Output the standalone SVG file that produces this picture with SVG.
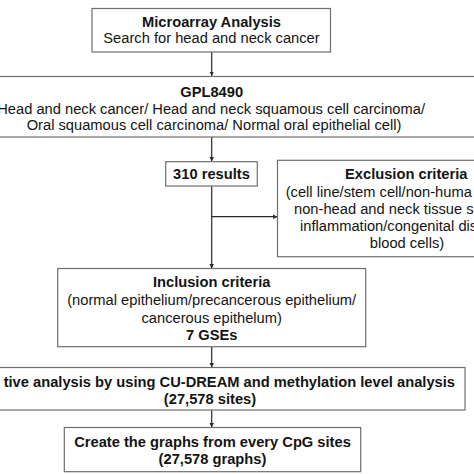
<svg xmlns="http://www.w3.org/2000/svg" width="474" height="474" viewBox="0 0 474 474">
<style>
.box{fill:#fff;stroke:#6e6e6e;stroke-width:1.2}
text{font-family:"Liberation Sans",Arial,sans-serif;font-size:14.7px;fill:#141414}
.b{font-weight:bold}
.c{text-anchor:middle}
.e{text-anchor:end}
.conn{stroke:#2a2a2a;stroke-width:1.2;fill:none}
</style>
<defs>
<marker id="ah" viewBox="0 0 10 10" refX="10" refY="5" markerWidth="4.5" markerHeight="4.5" orient="auto" markerUnits="userSpaceOnUse">
<path d="M0,0 L10,5 L0,10 z" fill="#2a2a2a"/>
</marker>
</defs>
<rect width="474" height="474" fill="#fff"/>
<g id="connectors">
<line class="conn" x1="211.7" y1="52" x2="211.7" y2="76" marker-end="url(#ah)"/>
<line class="conn" x1="211.7" y1="137" x2="211.7" y2="161.5" marker-end="url(#ah)"/>
<line class="conn" x1="211.7" y1="186" x2="211.7" y2="268.5" marker-end="url(#ah)"/>
<line class="conn" x1="211.7" y1="216.7" x2="277.5" y2="216.7" marker-end="url(#ah)"/>
<line class="conn" x1="211.7" y1="347" x2="211.7" y2="367.5" marker-end="url(#ah)"/>
<line class="conn" x1="211.7" y1="410" x2="211.7" y2="427.5" marker-end="url(#ah)"/>
</g>
<g id="microarray">
<rect class="box" x="92" y="8.5" width="238.5" height="43.5"/>
<text class="b c" x="211.5" y="27">Microarray Analysis</text>
<text class="c" x="211.5" y="43">Search for head and neck cancer</text>
</g>
<g id="gpl8490">
<rect class="box" x="-10" y="76.5" width="494" height="60.5"/>
<text class="b c" x="211.7" y="97">GPL8490</text>
<text class="e" x="425" y="113.5">Head and neck cancer/ Head and neck squamous cell carcinoma/</text>
<text class="c" x="214" y="129.5">Oral squamous cell carcinoma/ Normal oral epithelial cell)</text>
</g>
<g id="results">
<rect class="box" x="165.7" y="161.7" width="91.6" height="24.3"/>
<text class="b c" x="211.5" y="178.5">310 results</text>
</g>
<g id="exclusion">
<rect class="box" x="277.5" y="160.3" width="260" height="96.4"/>
<text class="b" x="345" y="179">Exclusion criteria</text>
<text x="285.7" y="197">(cell line/stem cell/non-huma</text>
<text x="294" y="214">non-head and neck tissue s</text>
<text x="300" y="231">inflammation/congenital dis</text>
<text class="c" x="407" y="247.5">blood cells)</text>
</g>
<g id="inclusion">
<rect class="box" x="57.7" y="268.5" width="308" height="78.2"/>
<text class="b c" x="211.7" y="287">Inclusion criteria</text>
<text class="c" x="211.7" y="305">(normal epithelium/precancerous epithelium/</text>
<text class="c" x="211.7" y="323">cancerous epithelum)</text>
<text class="b c" x="211.7" y="340">7 GSEs</text>
</g>
<g id="analysis">
<rect class="box" x="-10" y="367.5" width="475" height="42.5"/>
<text class="b e" x="455" y="386.5">tive analysis by using CU-DREAM and methylation level analysis</text>
<text class="b c" x="210" y="404">(27,578 sites)</text>
</g>
<g id="graphs">
<rect class="box" x="64.3" y="427.5" width="296.4" height="44.2"/>
<text class="b c" x="212.5" y="447">Create the graphs from every CpG sites</text>
<text class="b c" x="212.5" y="463.5">(27,578 graphs)</text>
</g>
</svg>
